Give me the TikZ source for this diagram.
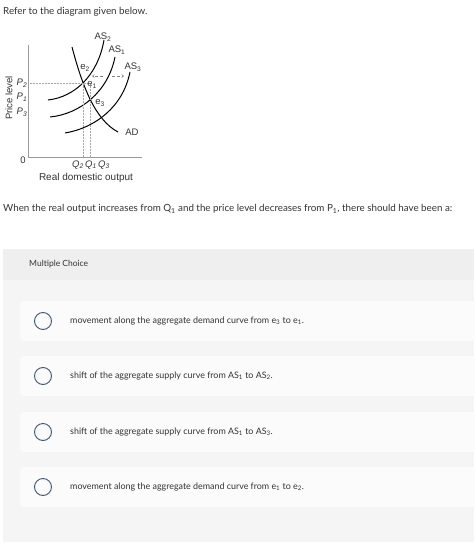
\documentclass[tikz,border=0pt]{standalone}
\usepackage{fontspec}
\setmainfont{Liberation Sans}
\newfontfamily\uifont{Lato}
\usetikzlibrary{intersections,arrows.meta}

\definecolor{uitext}{HTML}{333333}
\definecolor{radioblue}{HTML}{3B5570}
\definecolor{panelgray}{HTML}{F5F5F5}
\definecolor{headgray}{HTML}{EFEFEF}
\definecolor{cardgray}{HTML}{FBFBFB}

\tikzset{
  curve/.style={line width=1pt},
  guide/.style={densely dotted, gray!70, line width=0.5pt},
  axis/.style={gray!80, line width=0.6pt},
  lbl/.style={font=\fontsize{9.5}{10}\selectfont, inner sep=0pt, text=black!80},
  plbl/.style={lbl, font=\fontsize{9.5}{10}\selectfont\itshape},
  shiftarrow/.style={densely dashed, gray, line width=0.5pt, -{Straight Barb[length=2pt,width=3pt]}},
  card/.style={fill=cardgray, rounded corners=4pt},
  radio/.style={circle, draw=radioblue, line width=0.9pt, minimum size=17pt, inner sep=0pt},
  uitxt/.style={font=\uifont\fontsize{9.8}{11}\selectfont, text=uitext, inner sep=0pt},
  opttext/.style={anchor=west, font=\uifont\fontsize{8.9}{10}\selectfont, text=uitext, inner sep=0pt},
}

\begin{document}
\begin{tikzpicture}[x=1pt, y=-1pt]
  \useasboundingbox[fill=white] (0,0) rectangle (474,543);

  % question text
  \node[uitxt, anchor=west] (intro) at (3,12) {Refer to the diagram given below.};

  % axes
  \coordinate (origin) at (28,157);
  \coordinate (ytop) at (28,45);
  \coordinate (xend) at (142,157);
  \draw[axis] (ytop) -- (origin) -- (xend);
  \node[lbl] (zero) at (23,160) {0};
  \node[lbl, rotate=90] (ylabel) at (9,98) {Price level};
  \node[lbl, font=\fontsize{10}{11}\selectfont] (xlabel) at (86,178) {Real domestic output};

  % curves
  \draw[curve, name path=as2] (48,100) .. controls (75,97) and (98,75) .. (104,40);
  \draw[curve, name path=as1] (50,117) .. controls (80,114) and (108,92) .. (115,57);
  \draw[curve, name path=as3] (65,133) .. controls (95,128) and (123,107) .. (130,72);
  \draw[curve, name path=ad] (72,47) .. controls (82,85) and (95,120) .. (118,132);

  \path[name intersections={of=ad and as2, by=etwo}];
  \path[name intersections={of=ad and as1, by=eone}];
  \path[name intersections={of=ad and as3, by=ethree}];

  % guides
  \draw[guide] (etwo -| origin) -- (eone |- etwo);
  \draw[guide] (etwo) -- (etwo |- origin);
  \draw[guide] (eone |- etwo) -- (eone |- origin);

  % curve labels
  \node[lbl] (as2lbl) at (103,37) {AS\textsubscript{2}};
  \node[lbl] (as1lbl) at (117,50) {AS\textsubscript{1}};
  \node[lbl] (as3lbl) at (133,67) {AS\textsubscript{3}};
  \node[lbl] (adlbl) at (132,132) {AD};
  \node[lbl] (e2lbl) at (85,68) {e\textsubscript{2}};
  \node[lbl] (e1lbl) at (92,85) {e\textsubscript{1}};
  \node[lbl] (e3lbl) at (100,103) {e\textsubscript{3}};

  % price and output labels
  \node[plbl] (p2) at (22,83) {P\textsubscript{2}};
  \node[plbl] (p1) at (22,97) {P\textsubscript{1}};
  \node[plbl] (p3) at (22,112) {P\textsubscript{3}};
  \node[plbl] (q2) at (78,165) {Q\textsubscript{2}};
  \node[plbl] (q1) at (91,165) {Q\textsubscript{1}};
  \node[plbl] (q3) at (104,165) {Q\textsubscript{3}};

  % shift arrows
  \coordinate (lfrom) at (103,76);
  \coordinate (lto) at (92,76);
  \coordinate (rfrom) at (112,76);
  \coordinate (rto) at (124,76);
  \draw[shiftarrow] (lfrom) -- (lto);
  \draw[shiftarrow] (rfrom) -- (rto);

  \node[uitxt, anchor=west] (question) at (3,209) {When the real output increases from Q\textsubscript{1} and the price level decreases from P\textsubscript{1}, there should have been a:};

  % multiple choice panel
  \fill[panelgray] (3,249) rectangle (474,542);
  \fill[headgray] (3,249) rectangle (474,280);
  \node[uitxt, anchor=west, font=\uifont\fontsize{8.5}{10}\selectfont] (mchead) at (29,264) {Multiple Choice};

  \foreach \i/\y/\txt in {
      1/321/{movement along the aggregate demand curve from e\textsubscript{3} to e\textsubscript{1}.},
      2/376/{shift of the aggregate supply curve from AS\textsubscript{1} to AS\textsubscript{2}.},
      3/432/{shift of the aggregate supply curve from AS\textsubscript{1} to AS\textsubscript{3}.},
      4/487/{movement along the aggregate demand curve from e\textsubscript{1} to e\textsubscript{2}.}} {
    \fill[card] (20,\y-20) rectangle (480,\y+20);
    \node[radio] (radio\i) at (43,\y) {};
    \node[opttext] (opt\i) at (70,\y) {\txt};
  }
\end{tikzpicture}
\end{document}
